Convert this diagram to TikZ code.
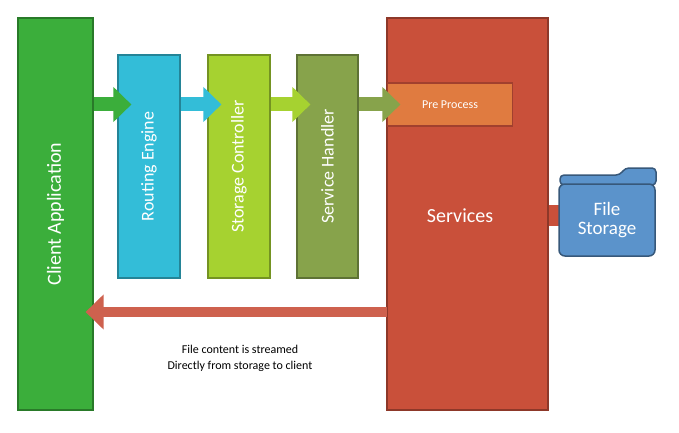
\documentclass[tikz,border=0pt]{standalone}
\usepackage{fontspec}
\setmainfont{Carlito}
\usetikzlibrary{arrows.meta}
\definecolor{clientc}{HTML}{3BAE3B}
\definecolor{routec}{HTML}{33BDD8}
\definecolor{storec}{HTML}{A6D230}
\definecolor{handc}{HTML}{87A34B}
\definecolor{servc}{HTML}{C9503A}
\definecolor{prec}{HTML}{E07B40}
\definecolor{filec}{HTML}{5B93CB}
\tikzset{
  block/.style={draw=#1!70!black, fill=#1, line width=1.2pt, inner sep=0pt},
  label/.style={text=white, font=\fontsize{#1}{#1}\selectfont},
  flow/.style={#1, line width=14pt, -{Triangle[width=34pt,length=18pt]}},
}
\begin{document}
\begin{tikzpicture}[x=1pt, y=-1pt]
  \useasboundingbox (0,0) rectangle (679,433);
  \node[block=clientc, minimum width=75pt, minimum height=392pt] (client) at (55.5,214) {};
  \node[rotate=90, label=20] at (client) {Client Application};
  \node[block=routec, minimum width=62pt, minimum height=223pt] (route) at (149,166.5) {};
  \node[rotate=90, label=18] at (route) {Routing Engine};
  \node[block=storec, minimum width=62pt, minimum height=223pt] (store) at (239,166.5) {};
  \node[rotate=90, label=18] at (store) {Storage Controller};
  \node[block=handc, minimum width=61pt, minimum height=223pt] (hand) at (327.5,166.5) {};
  \node[rotate=90, label=18] at (hand) {Service Handler};
  % services and the file store
  \fill[servc] (548,205) rectangle (566,226);
  \node[block=servc, minimum width=161pt, minimum height=392pt] (serv) at (467.5,214) {};
  \node[label=20] at (460,216) {Services};
  \node[block=prec, draw=servc!80!black, minimum width=125pt, minimum height=43pt, label=12] (pre) at (450,104.5) {Pre Process};
  \filldraw[fill=filec, draw=filec!60!black, line width=1.5pt, rounded corners=4pt]
    (560,185) -- (560,175) -- (620,175) -- (625,168) -- (656,168) -- (656,185) -- cycle;
  \node[block=filec, draw=filec!60!black, line width=1.5pt, rounded corners=6pt,
    minimum width=96pt, minimum height=72pt, align=center, label=19] (file) at (607,220) {File\\Storage};
  % request chain
  \draw[flow=clientc] (client.east |- pre.center) -- ([xshift=14pt]route.west |- pre.center);
  \draw[flow=routec] (route.east |- pre.center) -- ([xshift=14pt]store.west |- pre.center);
  \draw[flow=storec] (store.east |- pre.center) -- ([xshift=14pt]hand.west |- pre.center);
  \draw[flow=handc] (hand.east |- pre.center) -- ([xshift=14pt]serv.west |- pre.center);
  % response
  \coordinate (back) at (387,312);
  \draw[servc!90!white, line width=10pt, -{Triangle[width=34pt,length=18pt]}] (back) -- ([xshift=-8pt]client.east |- back);
  \node[align=center, font=\fontsize{12}{16}\selectfont] (note) at (240,358)
    {File content is streamed\\Directly from storage to client};
\end{tikzpicture}
\end{document}
